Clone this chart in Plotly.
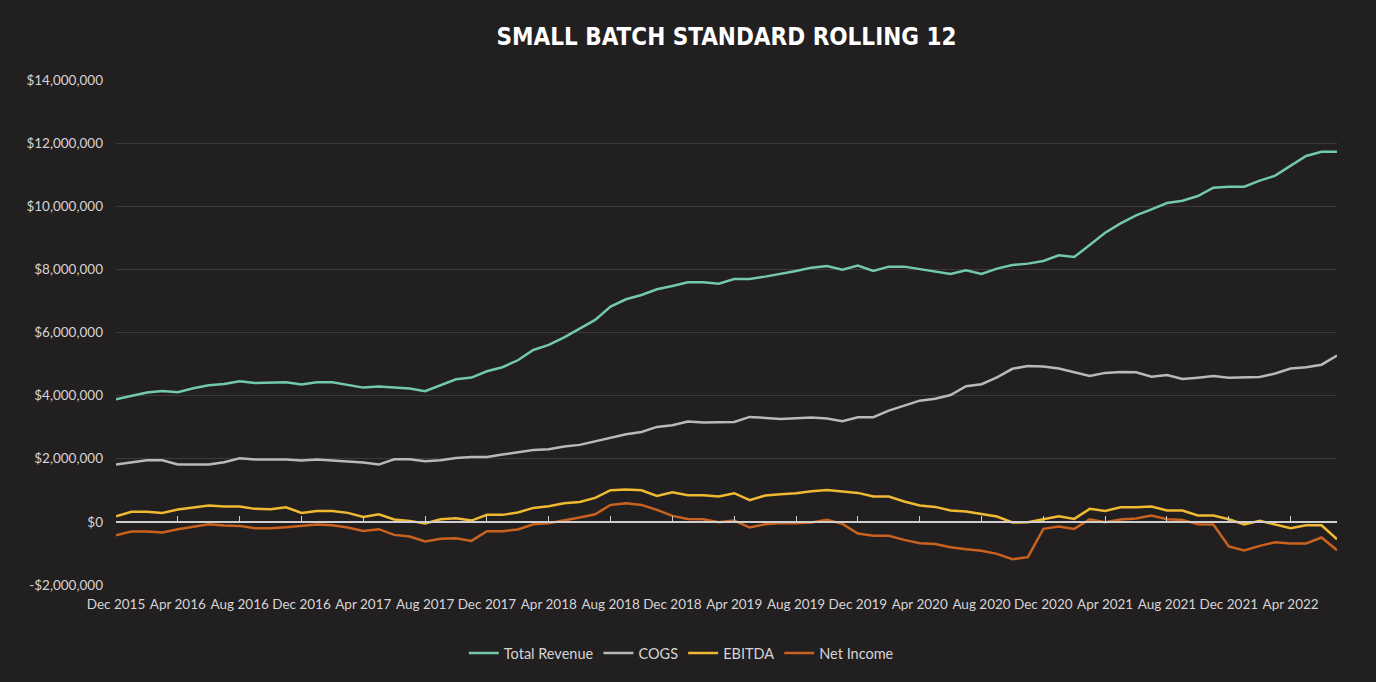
import plotly.graph_objects as go

month_names = ["Jan", "Feb", "Mar", "Apr", "May", "Jun", "Jul", "Aug", "Sep", "Oct", "Nov", "Dec"]
months = [f"{month_names[(11 + i) % 12]} {2015 + (11 + i) // 12}" for i in range(80)]

tick_labels = ["Dec 2015", "Apr 2016", "Aug 2016", "Dec 2016", "Apr 2017", "Aug 2017",
               "Dec 2017", "Apr 2018", "Aug 2018", "Dec 2018", "Apr 2019", "Aug 2019",
               "Dec 2019", "Apr 2020", "Aug 2020", "Dec 2020", "Apr 2021", "Aug 2021",
               "Dec 2021", "Apr 2022"]

total_revenue = [
    3.885, 3.99, 4.096, 4.149, 4.107, 4.233, 4.328, 4.371, 4.455, 4.402,
    4.402, 4.423, 4.349, 4.423, 4.423, 4.339, 4.254, 4.286, 4.265, 4.223,
    4.138, 4.318, 4.518, 4.571, 4.772, 4.90, 5.12, 5.447, 5.606, 5.849,
    6.113, 6.398, 6.820, 7.052, 7.189, 7.369, 7.474, 7.590, 7.590, 7.548,
    7.696, 7.696, 7.770, 7.854, 7.949, 8.055, 8.108, 7.992, 8.118, 7.949,
    8.087, 8.087, 8.013, 7.928, 7.854, 7.971, 7.854, 8.023, 8.139, 8.182,
    8.266, 8.446, 8.393, 8.773, 9.163, 9.459, 9.712, 9.902, 10.103, 10.177,
    10.325, 10.589, 10.620, 10.620, 10.810, 10.969, 11.275, 11.592, 11.729, 11.729,
]

cogs = [
    1.816, 1.890, 1.953, 1.953, 1.816, 1.816, 1.816, 1.890, 2.016, 1.974,
    1.974, 1.974, 1.942, 1.974, 1.942, 1.911, 1.879, 1.816, 1.985, 1.985,
    1.921, 1.953, 2.027, 2.059, 2.059, 2.132, 2.206, 2.275, 2.301, 2.386,
    2.439, 2.555, 2.671, 2.776, 2.850, 3.009, 3.062, 3.178, 3.146, 3.146,
    3.167, 3.325, 3.294, 3.262, 3.283, 3.304, 3.273, 3.188, 3.315, 3.315,
    3.526, 3.695, 3.840, 3.900, 4.020, 4.300, 4.360, 4.580, 4.850, 4.940,
    4.920, 4.860, 4.740, 4.620, 4.720, 4.750, 4.740, 4.600, 4.650, 4.530,
    4.570, 4.620, 4.570, 4.590, 4.590, 4.700, 4.860, 4.900, 4.980, 5.270,
]

ebitda = [
    0.179, 0.317, 0.317, 0.285, 0.391, 0.464, 0.517, 0.486, 0.486, 0.412,
    0.401, 0.464, 0.285, 0.348, 0.348, 0.285, 0.158, 0.243, 0.074, 0.032,
    -0.053, 0.084, 0.116, 0.042, 0.222, 0.222, 0.296, 0.443, 0.496, 0.591,
    0.633, 0.760, 1.003, 1.024, 1.003, 0.823, 0.940, 0.845, 0.845, 0.802,
    0.908, 0.686, 0.834, 0.876, 0.908, 0.971, 1.013, 0.961, 0.918, 0.802,
    0.802, 0.644, 0.517, 0.475, 0.359, 0.327, 0.253, 0.169, -0.021, -0.011,
    0.084, 0.179, 0.095, 0.412, 0.348, 0.464, 0.464, 0.486, 0.359, 0.359,
    0.201, 0.201, 0.084, -0.084, 0.032, -0.084, -0.201, -0.106, -0.106, -0.549,
]

net_income = [
    -0.422, -0.306, -0.306, -0.338, -0.232, -0.148, -0.074, -0.116, -0.127, -0.201,
    -0.201, -0.169, -0.137, -0.084, -0.106, -0.179, -0.285, -0.232, -0.412, -0.464,
    -0.623, -0.538, -0.517, -0.602, -0.296, -0.296, -0.243, -0.074, -0.042, 0.042,
    0.137, 0.243, 0.538, 0.591, 0.538, 0.380, 0.190, 0.095, 0.084, -0.011,
    0.042, -0.179, -0.074, -0.032, -0.042, -0.021, 0.063, -0.063, -0.369, -0.443,
    -0.443, -0.570, -0.676, -0.702, -0.802, -0.866, -0.918, -1.013, -1.182, -1.119,
    -0.222, -0.148, -0.222, 0.084, -0.011, 0.074, 0.106, 0.201, 0.084, 0.063,
    -0.074, -0.084, -0.781, -0.908, -0.760, -0.644, -0.686, -0.686, -0.496, -0.897,
]

series = [
    ("Total Revenue", total_revenue, "#74c9a9"),
    ("COGS", cogs, "#b9b9b9"),
    ("EBITDA", ebitda, "#efb932"),
    ("Net Income", net_income, "#c9621f"),
]

BG = "#221f20"
TXT = "#d6d4d5"
FONT = "Lato, 'Open Sans', sans-serif"

fig = go.Figure()
for name, vals, color in series:
    fig.add_trace(go.Scatter(
        x=months, y=[v * 1_000_000 for v in vals], name=name, mode="lines",
        line=dict(color=color, width=2.5),
    ))

# helper trace for the zero baseline axis with tick marks
fig.add_trace(go.Scatter(x=months, y=[None] * len(months), xaxis="x2",
                         showlegend=False, hoverinfo="skip", mode="lines"))

fig.update_layout(
    width=1376, height=682,
    paper_bgcolor=BG, plot_bgcolor=BG,
    margin=dict(l=116, r=39, t=80, b=97),
    title=dict(
        text="<b>SMALL BATCH STANDARD ROLLING 12</b>",
        x=0.5, xanchor="center", xref="paper",
        y=1 - 37 / 682, yanchor="middle", yref="container",
        font=dict(family="'DejaVu Sans Condensed', 'Liberation Sans Narrow', 'Roboto Condensed', Roboto, sans-serif",
                  size=24, color="#ffffff"),
    ),
    font=dict(family=FONT, color=TXT, size=13.5),
    showlegend=True,
    legend=dict(
        orientation="h", x=0.463, xanchor="center", y=-0.135, yanchor="middle",
        font=dict(family=FONT, size=14.5, color=TXT), bgcolor="rgba(0,0,0,0)",
        itemwidth=30,
    ),
    xaxis=dict(
        type="category", range=[0, len(months) - 1],
        tickmode="array", tickvals=tick_labels, ticktext=tick_labels,
        showgrid=False, zeroline=False, showline=False, ticks="",
        tickfont=dict(family=FONT, size=13.5, color=TXT),
        tickangle=0, ticklabelstandoff=9,
    ),
    xaxis2=dict(
        type="category", matches="x", overlaying="x", anchor="free",
        position=0.125,
        tickmode="array", tickvals=tick_labels,
        showticklabels=False, showgrid=False, zeroline=False,
        showline=True, linecolor="#cfcfcf", linewidth=1.5,
        ticks="inside", ticklen=5, tickcolor="#cfcfcf", tickwidth=1,
    ),
    yaxis=dict(
        range=[-2_000_000, 14_000_000], tickmode="array",
        tickvals=[-2e6, 0, 2e6, 4e6, 6e6, 8e6, 10e6, 12e6, 14e6],
        ticktext=["-$2,000,000", "$0", "$2,000,000", "$4,000,000", "$6,000,000",
                  "$8,000,000", "$10,000,000", "$12,000,000", "$14,000,000"],
        showgrid=True, gridcolor="#3b393a", gridwidth=1,
        zeroline=False, showline=False, ticks="",
        ticklabelstandoff=12,
        tickfont=dict(family=FONT, size=13.5, color=TXT),
    ),
)

fig.write_html("out.html")
